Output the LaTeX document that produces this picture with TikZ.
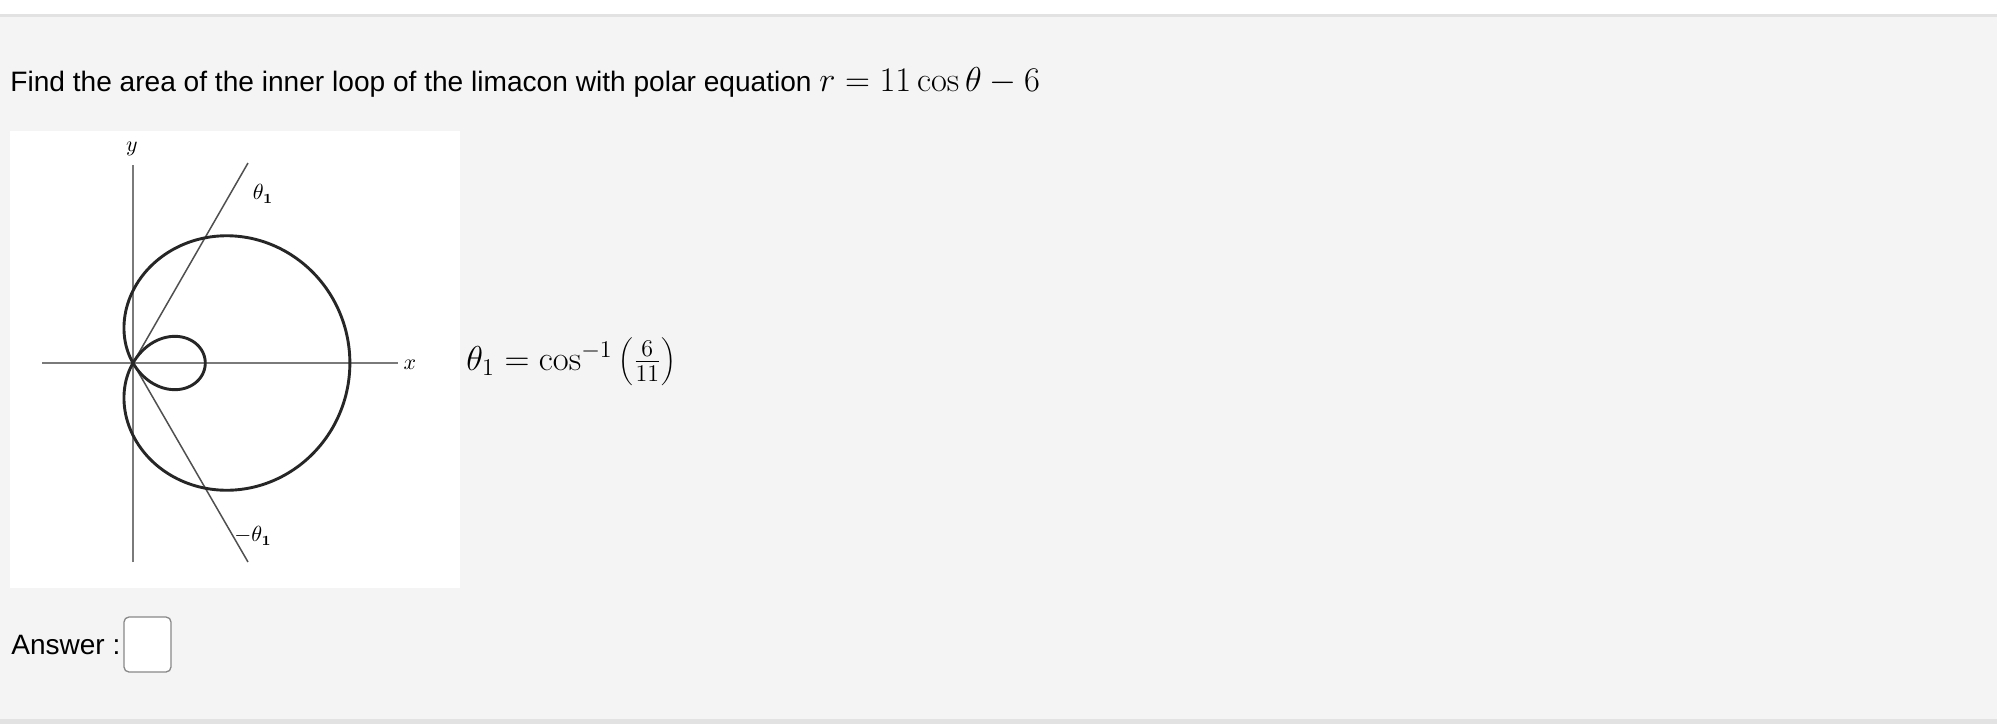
\documentclass[tikz,border=0pt]{standalone}
\usepackage[no-math]{fontspec}
\setmainfont{Liberation Sans}
\definecolor{pagebg}{HTML}{F4F4F4}
\definecolor{edgeline}{HTML}{E2E2E2}
\definecolor{axisgray}{HTML}{7A7A7A}
\definecolor{raygray}{HTML}{505050}
\definecolor{boxgray}{HTML}{888888}
\begin{document}
\begin{tikzpicture}[x=0.5pt,y=-0.5pt]
          \tikzset{txt/.style={inner sep=0pt,anchor=base west},
                   axis/.style={axisgray,line width=1pt},
                   ray/.style={raygray,line width=0.75pt},
                   curve/.style={black!85,line width=1.45pt},
                   lbl/.style={inner sep=0pt,font=\fontsize{10.5}{12}\selectfont}}
          \useasboundingbox (0,0) rectangle (1997,724);
          % page
          \fill[pagebg] (0,0) rectangle (1997,724);
          \fill[white] (0,0) rectangle (1997,14);
          \fill[edgeline] (0,14) rectangle (1997,17);
          \fill[edgeline] (0,719) rectangle (1997,724);
          % question
          \node[txt,font=\fontsize{14.05}{16}\selectfont] (q) at (10,91)
            {Find the area of the inner loop of the limacon with polar equation};
          \node[txt,font=\fontsize{17.5}{20}\selectfont] (eq) at (819,91)
            {$r=11\cos\theta-6$};
          % figure
          \fill[white] (10,131) rectangle (460,588);
          \coordinate (O) at (133,363);
          \coordinate (xl) at (42,363);
          \coordinate (xr) at (398,363);
          \coordinate (yt) at (133,165);
          \coordinate (yb) at (133,562);
          \coordinate (t1) at (248,163);
          \coordinate (t2) at (248,562);
          \draw[axis] (xl)--(xr);
          \draw[axis] (yb)--(yt);
          \draw[ray] (O)--(t1);
          \draw[ray] (O)--(t2);
          \draw[curve] plot[domain=0:360,samples=240,smooth]
            ({133+72.3*(1+2*cos(\x))*cos(\x)},{363-72.3*(1+2*cos(\x))*sin(\x)});
          \node[lbl] (xlab) at (410,365) {$x$};
          \node[lbl] (ylab) at (132,149) {$y$};
          \node[lbl] (t1lab) at (263,194) {$\theta_{\mathbf{1}}$};
          \node[lbl] (t2lab) at (253,536) {$-\theta_{\mathbf{1}}$};
          % formula
          \node[txt,font=\fontsize{17.4}{20}\selectfont] (th) at (466,370)
            {$\theta_1=\cos^{-1}\left(\frac{6}{11}\right)$};
          % answer
          \node[txt,font=\fontsize{14}{16}\selectfont] (ans) at (11,654) {Answer :};
          \node[draw=boxgray,fill=white,line width=0.65pt,rounded corners=2.5pt,
                minimum width=23.5pt,minimum height=27.5pt,inner sep=0pt] (box) at (147.5,644.5) {};
      \end{tikzpicture}
\end{document}
